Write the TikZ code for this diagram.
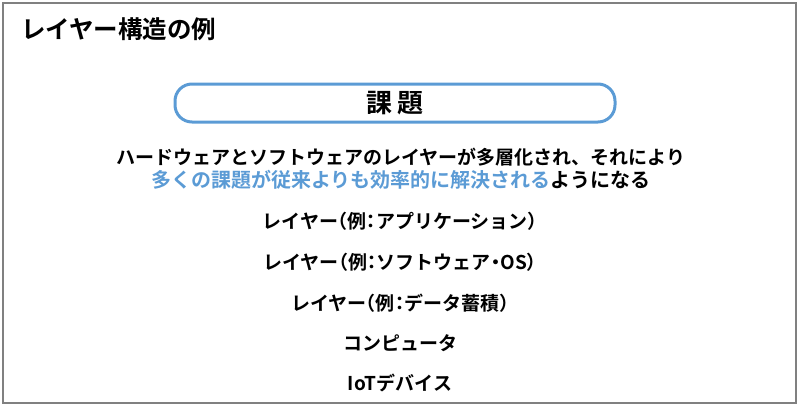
\documentclass[tikz,border=0pt]{standalone}
\usepackage{fontspec}
\setmainfont{Noto Sans CJK JP Bold}
\newfontfamily\halfpunct{Noto Sans CJK JP Bold}[RawFeature=+halt]
\newcommand{\hp}[1]{{\halfpunct #1}}
\definecolor{accent}{HTML}{5B9BD5}
\definecolor{framegray}{HTML}{808080}
\begin{document}
\begin{tikzpicture}[x=1pt,y=-1pt,
  frame/.style={draw=framegray, line width=2pt},
  titletxt/.style={inner sep=0pt, anchor=west, font=\fontsize{24.5}{24.5}\selectfont},
  kadai/.style={draw=accent, line width=3pt, rounded corners=17pt, minimum width=440pt, minimum height=38pt, inner sep=0pt, font=\fontsize{26}{26}\selectfont},
  desc/.style={inner sep=0pt, anchor=center, font=\fontsize{19}{19}\selectfont},
  descb/.style={inner sep=0pt, anchor=center, font=\fontsize{20}{20}\selectfont},
  layer/.style={inner sep=0pt, anchor=center, font=\fontsize{19}{19}\selectfont}]
\useasboundingbox (0,0) rectangle (800,407);
\draw[frame] (3,3) rectangle (796,403);
\node[titletxt] (title) at (21,29) {レイヤー構造の例};
\node[kadai] (kadai) at (395,103) {課 題};
\node[desc] (d1) at (401,157) {ハードウェアとソフトウェアのレイヤーが多層化され、それにより};
\node[descb] (d2) at (401,180) {{\color{accent}多くの課題が従来よりも効率的に解決される}ようになる};
\node[layer] (l1) at (400,221) {レイヤー\hp{（}例\hp{：}アプリケーション\hp{）}};
\node[layer] (l2) at (400,262) {レイヤー\hp{（}例\hp{：}ソフトウェア\hp{・}OS\hp{）}};
\node[layer] (l3) at (400,303) {レイヤー\hp{（}例\hp{：}データ蓄積\hp{）}};
\node[layer] (l4) at (400,343) {コンピュータ};
\node[layer] (l5) at (400,383) {IoTデバイス};
\end{tikzpicture}
\end{document}
